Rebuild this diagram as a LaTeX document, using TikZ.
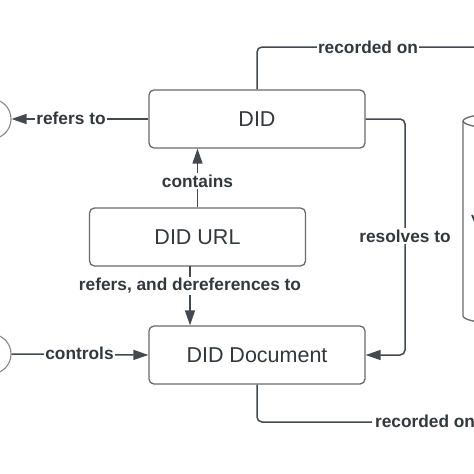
\documentclass[tikz,border=0pt]{standalone}
\usepackage{fontspec}
\setmainfont{Liberation Sans}
\usetikzlibrary{arrows.meta}
\definecolor{ink}{HTML}{33383D}
\definecolor{edgegray}{HTML}{6A6A6A}
\definecolor{linegray}{HTML}{44494F}
\begin{document}
\begin{tikzpicture}[x=1pt,y=-1pt,
  box/.style={draw=edgegray, line width=1.3pt, rounded corners=5pt,
    minimum width=216pt, minimum height=58pt, inner sep=0pt,
    font=\fontsize{21.5}{25}\selectfont, text=ink},
  lbl/.style={font=\bfseries\fontsize{17.3}{20}\selectfont, text=ink,
    fill=white, inner sep=1.5pt},
  conn/.style={draw=linegray, line width=1.5pt, rounded corners=5pt},
  arr/.style={conn, -{Triangle[length=15pt,width=10pt]}},
  ring/.style={circle, draw=edgegray!80, line width=1.1pt, minimum size=40pt, inner sep=0pt}
]
\useasboundingbox (0,0) rectangle (474,474);
\fill[white] (0,0) rectangle (474,474);

% boxes
\node[box] (did) at (257,119) {DID};
\node[box] (url) at (197.5,237) {DID URL};
\node[box] (doc) at (257,355) {DID Document};

% partial circles at the left edge
\node[ring] (subj) at (-9,119) {};
\node[ring] (ctrl) at (-9,354) {};

% cylinder (mostly off the right edge)
\draw[edgegray, line width=1.3pt]
  (463,121) -- (463,316) arc (180:0:60 and 9) -- (583,121) arc (0:-180:60 and 9);
\draw[edgegray, line width=1.3pt] (463,121) arc (180:0:60 and 9);
\coordinate (cyltop) at (523,112);
\coordinate (cylbot) at (523,325);
\node[anchor=base west, font=\fontsize{20.5}{24}\selectfont, text=ink, inner sep=0pt]
  (vdr) at (471,229) {Verifiable Data Registry};

% connectors
\draw[arr] (did.west) -- (subj.east);
\node[lbl] (lrefers) at (71,118) {refers to};

\draw[arr] (ctrl.east) -- (doc.west);
\node[lbl] (lcontrols) at (79.5,353) {controls};

\draw[arr] (url.north) -- (url.north |- did.south);
\node[lbl] (lcontains) at (197.5,181) {contains};

\coordinate (urlout) at (190,266);
\draw[arr] (urlout) -- (urlout |- doc.north);
\node[lbl] (lderef) at (190,286) {refers, and dereferences to};

\coordinate (rv) at (405,236);
\draw[arr] (did.east) -| (rv) |- (doc.east);
\node[lbl] (lresolves) at (rv) {resolves to};

\coordinate (topbend) at (257,47);
\draw[arr] (did.north) -- (topbend) -| (cyltop);
\node[lbl] (lrec1) at (368,47) {recorded on};

\coordinate (botbend) at (257,422);
\draw[arr] (doc.south) -- (botbend) -| (cylbot);
\node[lbl, anchor=west, inner sep=0pt] (lrec2) at (372,421) {\,recorded on};
\end{tikzpicture}
\end{document}
